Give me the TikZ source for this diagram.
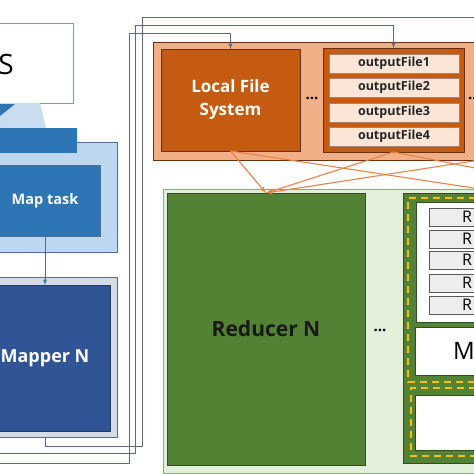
\documentclass[tikz,border=0pt]{standalone}
\usepackage{fontspec}
\setmainfont{Open Sans}
\usetikzlibrary{positioning}

\definecolor{hdrblue}{HTML}{2E75B6}
\definecolor{paleblue}{HTML}{BDD7EE}
\definecolor{wedgeblue}{HTML}{C9DCF0}
\definecolor{edgeblue}{HTML}{4F6F94}
\definecolor{mapperblue}{HTML}{2F5597}
\definecolor{mappergray}{HTML}{D6DCE5}
\definecolor{stackgray}{HTML}{5C6A86}
\definecolor{lfsouter}{HTML}{F0AF86}
\definecolor{lfsinner}{HTML}{C55A11}
\definecolor{lfsedge}{HTML}{6B3010}
\definecolor{filepink}{HTML}{FBE5D6}
\definecolor{lineorange}{HTML}{E8844A}
\definecolor{redpale}{HTML}{E2EFDA}
\definecolor{redgreen}{HTML}{548235}
\definecolor{redgreenedge}{HTML}{8FA97E}
\definecolor{dashyellow}{HTML}{FFC000}
\definecolor{rowgray}{HTML}{EDEDED}

\begin{document}
\begin{tikzpicture}[x=1pt,y=-1pt,
  box/.style={draw, rectangle, inner sep=0pt, outer sep=0pt, anchor=north west},
  stack/.style={draw=stackgray, line width=0.8pt},
  shuffle/.style={draw=lineorange, line width=1.1pt},
  dotsep/.style={font=\fontsize{15}{15}\selectfont\bfseries, inner sep=0pt},
  ydash/.style={draw=dashyellow, line width=2.2pt, dash pattern=on 7pt off 5pt}]
\useasboundingbox (0,0) rectangle (474,474);
\clip (0,0) rectangle (474,474);
\fill[white] (0,0) rectangle (474,474);

% left: HDFS and map side
\node[box, draw=edgeblue!70, fill=white, minimum width=153pt, minimum height=80pt] (hdfs) at (-80,23) {};
\node[anchor=east, inner sep=0pt, font=\fontsize{28}{30}\selectfont] (hdfstext) at (14,64) {FS};
\fill[wedgeblue] (-5,103) -- (40,103) -- (46,128) -- (-5,128) -- cycle;
\fill[hdrblue] (-5,104) -- (15,104) -- (0,116) -- (-5,116) -- cycle;
\node[box, draw=edgeblue, fill=paleblue, minimum width=147pt, minimum height=110pt] (mapbox) at (-30,142) {};
\node[box, draw=none, fill=hdrblue, minimum width=82pt, minimum height=25pt] (maphdr) at (-5,128) {};
\node[box, draw=edgeblue, fill=hdrblue, minimum width=110pt, minimum height=71pt,
  text=white, font=\fontsize{14.5}{16}\selectfont\bfseries] (maptask) at (-10,165) {Map task};
\node[box, draw=stackgray, fill=mappergray, minimum width=144pt, minimum height=160pt] (mapperout) at (-27,277) {};
\node[box, draw=mapperblue!70!black, fill=mapperblue, minimum width=130pt, minimum height=146pt,
  text=white, font=\fontsize{18}{20}\selectfont\bfseries] (mapper) at (-20,285) {Mapper N};
\path[draw, hdrblue, line width=0.9pt, -latex] (maptask.south) -- (mapper.north);

% stacked copies
\coordinate (sA1) at (142,446);
\coordinate (sA2) at (142,17);
\coordinate (sA3) at (490,17);
\coordinate (sB0) at (-5,453);
\coordinate (sB1) at (135,453);
\coordinate (sB2) at (135,25);
\coordinate (sC0) at (-5,463);
\coordinate (sC1) at (129,463);
\coordinate (sC2) at (129,33);
\path[stack] (mapperout.south) |- (sA1) -- (sA2) -- (sA3);

% local file system
\node[box, draw=lfsedge, fill=lfsouter, line width=0.9pt, minimum width=340pt, minimum height=118pt] (lfsout) at (153,42) {};
\node[box, draw=lfsedge, fill=lfsinner, line width=0.9pt, minimum width=139pt, minimum height=102pt,
  text=white, align=center, font=\fontsize{17}{23}\selectfont\bfseries] (lfs) at (161,49) {Local File\\System};
\node[dotsep] (dots1) at (312,98) {...};
\node[box, draw=lfsedge, fill=lfsinner, minimum width=141pt, minimum height=104pt] (outframe) at (323,48) {};
\foreach \i/\y in {1/54, 2/78, 3/103, 4/127}
  \node[box, draw=lfsedge!60, fill=filepink, minimum width=130pt, minimum height=19pt,
    text=black!85, font=\fontsize{12.5}{15}\selectfont\bfseries] (file\i) at (329,\y) {outputFile\i};
\node[dotsep, anchor=west] (dots2) at (468,98) {..};

\path[stack, -latex] (sB0) -- (sB1) -- (sB2) -| (outframe.north);
\path[stack, -latex] (sC0) -- (sC1) -- (sC2) -| (lfs.north);

% reducers
\node[box, draw=redgreenedge, fill=redpale, line width=1pt, minimum width=340pt, minimum height=284pt] (redout) at (163,189) {};
\node[box, draw=redgreen!60!black, fill=redgreen, minimum width=198pt, minimum height=272pt,
  text=black!90, font=\fontsize{21}{25}\selectfont\bfseries] (reducer) at (167,193) {Reducer N};
\node[dotsep] (dots3) at (380,330) {...};
\node[box, draw=redgreen!60!black, fill=redgreen, minimum width=100pt, minimum height=270pt] (redgrp) at (403,193) {};
\path[ydash] (500,198) -- (408,198) -- (408,382) -- (500,382);
\path[ydash] (500,388) -- (411,388) -- (411,456) -- (500,456);
\node[box, draw=redgreen!60!black, fill=white, minimum width=90pt, minimum height=120pt] (inbox) at (416,202) {};
\foreach \i/\y in {1/208, 2/230, 3/251, 4/274, 5/296}
  \node[box, draw=black!65, fill=rowgray, minimum width=80pt, minimum height=18pt] (row\i) at (429,\y) {};
\foreach \i in {1,...,5}
  \node[anchor=west, inner sep=0pt, font=\fontsize{16}{18}\selectfont] (rtext\i) at ([xshift=33pt]row\i.west) {R};
\node[box, draw=redgreen!60!black, fill=white, minimum width=90pt, minimum height=48pt] (merge) at (415,327) {};
\node[anchor=west, inner sep=0pt, font=\fontsize{24}{27}\selectfont] (mtext) at ([xshift=38pt]merge.west) {Me};
\node[box, draw=redgreen!60!black, fill=white, minimum width=90pt, minimum height=55pt] (lastbox) at (415,395) {};

% shuffle lines
\coordinate (offR1) at (480,160);
\coordinate (offR2) at (480,189);
\coordinate (offR3) at (480,169);
\path[shuffle, -latex] (lfs.south) -- (reducer.north);
\path[shuffle, -latex] (outframe.south) -- (reducer.north);
\path[shuffle, -latex] (offR1) -- (reducer.north);
\path[shuffle] (lfs.south) -- (offR2);
\path[shuffle] (outframe.south) -- (offR3);
\end{tikzpicture}
\end{document}
